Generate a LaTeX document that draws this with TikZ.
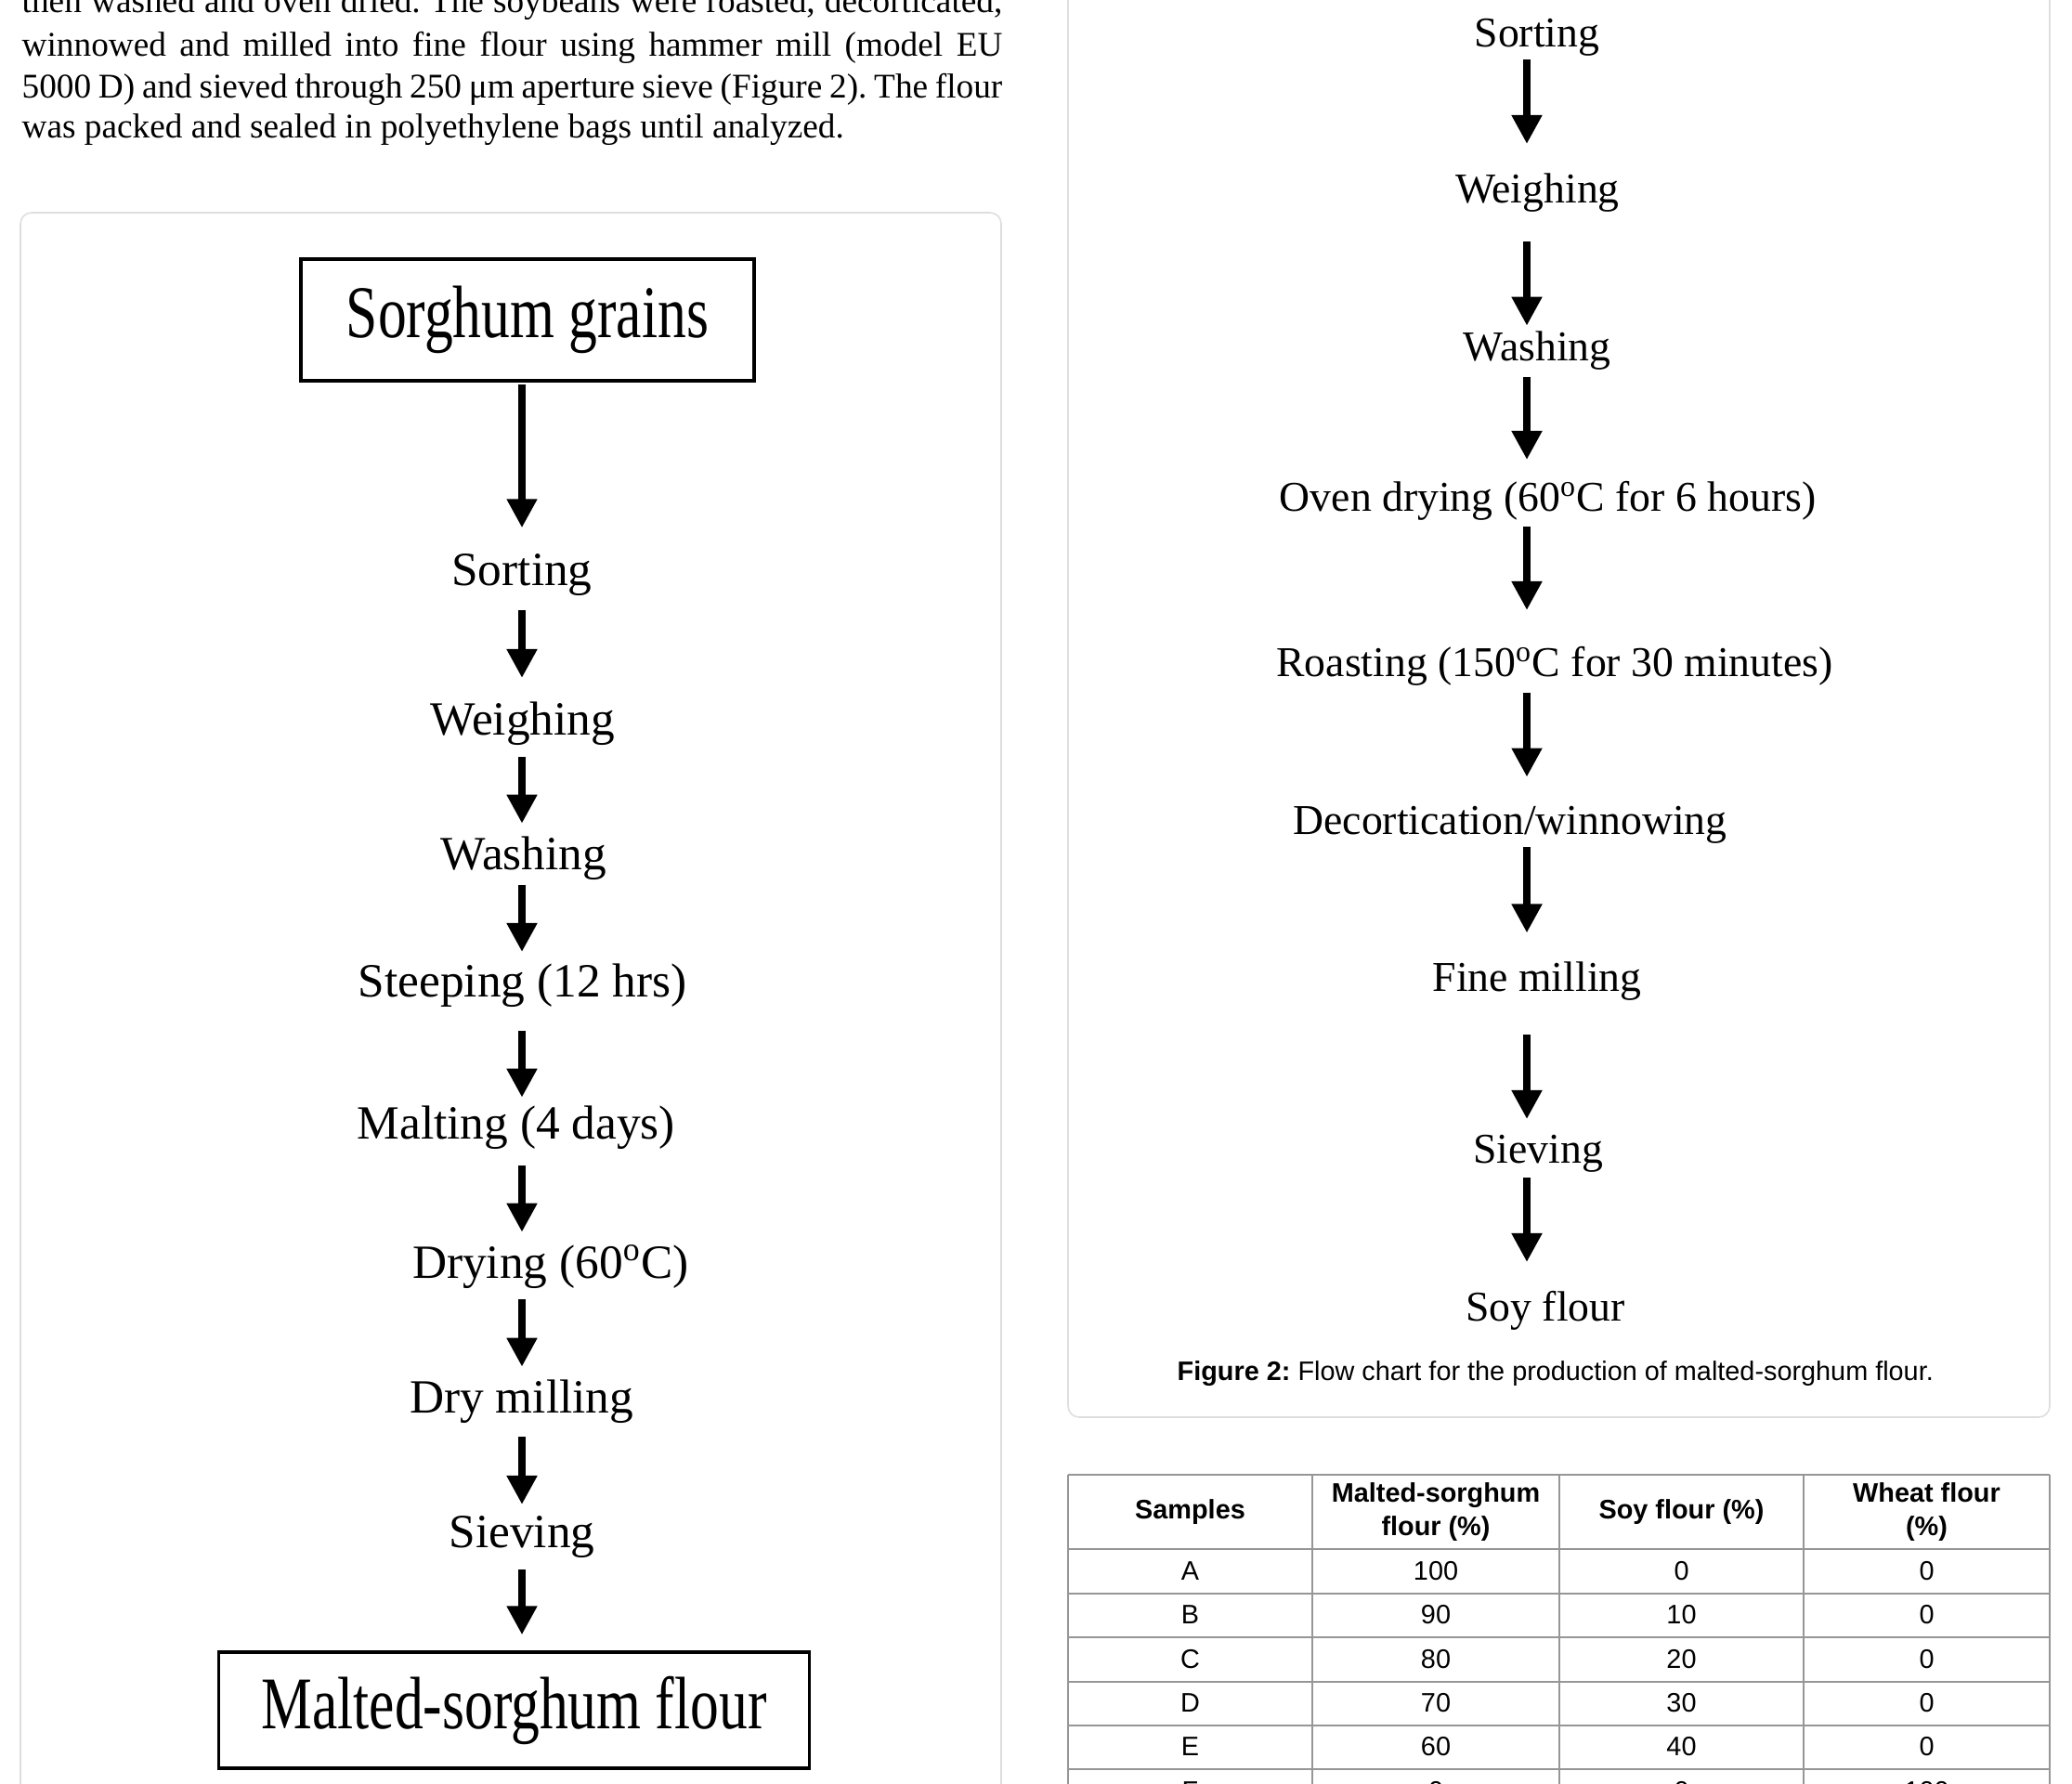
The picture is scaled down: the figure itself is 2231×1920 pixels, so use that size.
\documentclass[tikz,border=0pt]{standalone}
\usepackage{fontspec}
\setmainfont{Liberation Serif}
\newfontfamily\arialfont{Liberation Sans}
\usetikzlibrary{arrows.meta}
\definecolor{panelgray}{RGB}{222,222,222}
\definecolor{rulegray}{RGB}{150,150,150}
\newcommand\pline[1]{\makebox[10.55cm][s]{#1}}
\frenchspacing

\begin{document}
\begin{tikzpicture}[x=0.01cm,y=-0.01cm,
  flow/.style={-{Triangle[length=0.31cm,width=0.31cm]},line width=2.5pt},
  gaps/.style 2 args={shorten <=#1*0.2845pt,shorten >=#2*0.2845pt},
  stageL/.style={font=\fontsize{14.6}{16}\selectfont,inner sep=0pt,anchor=base},
  stageR/.style={font=\fontsize{13}{15}\selectfont,inner sep=0pt,anchor=base},
  endbox/.style={draw,line width=0.95pt,inner sep=0pt,font=\fontsize{17.5}{20}\selectfont},
  cell/.style={font=\arialfont\fontsize{8.2}{10}\selectfont,inner sep=0pt},
  head/.style={font=\arialfont\bfseries\fontsize{8.2}{10}\selectfont,inner sep=0pt,align=center},
  panel/.style={panelgray,line width=0.45pt,rounded corners=0.12cm}]

  \useasboundingbox (0,0) rectangle (2231,1920);
  \clip (0,0) rectangle (2231,1920);
  \fill[white] (0,0) rectangle (2231,1920);

  % text above the figure
  \node[anchor=base west,inner sep=0pt,font=\fontsize{10.6}{13}\selectfont] (par1) at (23,13)
    {\pline{then washed and oven dried. The soybeans were roasted, decorticated,}};
  \node[anchor=base west,inner sep=0pt,font=\fontsize{10.6}{13}\selectfont] (par2) at (23,60)
    {\pline{winnowed and milled into fine flour using hammer mill (model EU}};
  \node[anchor=base west,inner sep=0pt,font=\fontsize{10.6}{13}\selectfont] (par3) at (23,105)
    {\pline{5000 D) and sieved through 250 μm aperture sieve (Figure 2). The flour}};
  \node[anchor=base west,inner sep=0pt,font=\fontsize{10.6}{13}\selectfont] (par4) at (23,148.3)
    {was packed and sealed in polyethylene bags until analyzed.};

  % the two figure panels
  \draw[panel] (22,229) rectangle (1078,2100);
  \draw[panel] (1150,-200) rectangle (2207,1526);

  % sorghum chart
  \node[endbox,minimum width=4.88cm,minimum height=1.31cm] (sorgh) at (568,344.5)
    {\scalebox{1}[1.3]{Sorghum grains}};
  \node[stageL] (sortL) at (562,630) {Sorting};
  \node[stageL] (weighL) at (563,791.7) {Weighing};
  \node[stageL] (washL) at (564,936.7) {Washing};
  \node[stageL] (steep) at (562.7,1073) {Steeping (12 hrs)};
  \node[stageL] (malt) at (555.7,1226.7) {Malting (4 days)};
  \node[stageL] (dryL) at (593,1376) {Drying (60\textsuperscript{o}C)};
  \node[stageL] (mill) at (561.7,1521.7) {Dry milling};
  \node[stageL] (sieveL) at (562,1666.7) {Sieving};
  \node[endbox,minimum width=6.35cm,minimum height=1.25cm] (malted) at (553.5,1841.5)
    {\scalebox{1}[1.3]{Malted-sorghum flour}};
  \coordinate (spL) at (562,0);

  \path (sorgh.south -| spL) edge[flow,gaps={2}{61.7}] (sortL.base -| spL)
        (sortL.base -| spL) edge[flow,gaps={27}{61.7}] (weighL.base -| spL)
        (weighL.base -| spL) edge[flow,gaps={23.3}{50}] (washL.base -| spL)
        (washL.base -| spL) edge[flow,gaps={16.6}{48}] (steep.base -| spL)
        (steep.base -| spL) edge[flow,gaps={37}{45}] (malt.base -| spL)
        (malt.base -| spL) edge[flow,gaps={28.3}{49.3}] (dryL.base -| spL)
        (dryL.base -| spL) edge[flow,gaps={23}{50}] (mill.base -| spL)
        (mill.base -| spL) edge[flow,gaps={25.3}{46.7}] (sieveL.base -| spL)
        (sieveL.base -| spL) edge[flow,gaps={23.3}{17}] (malted.north -| spL);

  % soy chart
  \node[stageR] (sortR) at (1655,50) {Sorting};
  \node[stageR] (weighR) at (1655.4,218) {Weighing};
  \node[stageR] (washR) at (1655,388) {Washing};
  \node[stageR] (oven) at (1666.7,550) {Oven drying (60\textsuperscript{o}C for 6 hours)};
  \node[stageR] (roast) at (1674,728) {Roasting (150\textsuperscript{o}C for 30 minutes)};
  \node[stageR] (decort) at (1626,898) {Decortication/winnowing};
  \node[stageR] (fine) at (1655,1067) {Fine milling};
  \node[stageR] (sieveR) at (1656,1252) {Sieving};
  \node[stageR] (soy) at (1664,1422) {Soy flour};
  \coordinate (spR) at (1644,0);

  \path (sortR.base -| spR) edge[flow,gaps={14}{63}] (weighR.base -| spR)
        (weighR.base -| spR) edge[flow,gaps={42}{37.3}] (washR.base -| spR)
        (washR.base -| spR) edge[flow,gaps={17.5}{55}] (oven.base -| spR)
        (oven.base -| spR) edge[flow,gaps={17}{71}] (roast.base -| spR)
        (roast.base -| spR) edge[flow,gaps={17.6}{61.4}] (decort.base -| spR)
        (decort.base -| spR) edge[flow,gaps={14}{62.5}] (fine.base -| spR)
        (fine.base -| spR) edge[flow,gaps={47}{47}] (sieveR.base -| spR)
        (sieveR.base -| spR) edge[flow,gaps={16}{63}] (soy.base -| spR);

  \node[anchor=base west,inner sep=0pt,font=\arialfont\fontsize{8.2}{10}\selectfont] (capt) at (1267,1486.7)
    {\textbf{Figure 2:} Flow chart for the production of malted-sorghum flour.};

  % blend table
  \foreach \yy in {1588,1668,1715.5,1763,1810.5,1857.5,1904.5}
    \draw[rulegray,line width=0.55pt] (1150,\yy) -- (2207,\yy);
  \foreach \xx in {1150,1413,1679,1942,2207}
    \draw[rulegray,line width=0.55pt] (\xx,1588) -- (\xx,1960);
  \node[head] (h1) at (1281.5,1628) {Samples};
  \node[head] (h2) at (1546,1628) {Malted-sorghum\\flour (\%)};
  \node[head] (h3) at (1810.5,1628) {Soy flour (\%)};
  \node[head] (h4) at (2074.5,1628) {Wheat flour\\(\%)};
  \foreach \smp/\msf/\soyp/\wht [count=\rr] in {A/100/0/0,B/90/10/0,C/80/20/0,D/70/30/0,E/60/40/0,F/0/0/100} {
    \pgfmathsetmacro\yc{1691.7+47.3*(\rr-1)}
    \node[cell] (s\rr) at (1281.5,\yc) {\smp};
    \node[cell] (m\rr) at (1546,\yc) {\msf};
    \node[cell] (y\rr) at (1810.5,\yc) {\soyp};
    \node[cell] (w\rr) at (2074.5,\yc) {\wht};
  }
\end{tikzpicture}
\end{document}
